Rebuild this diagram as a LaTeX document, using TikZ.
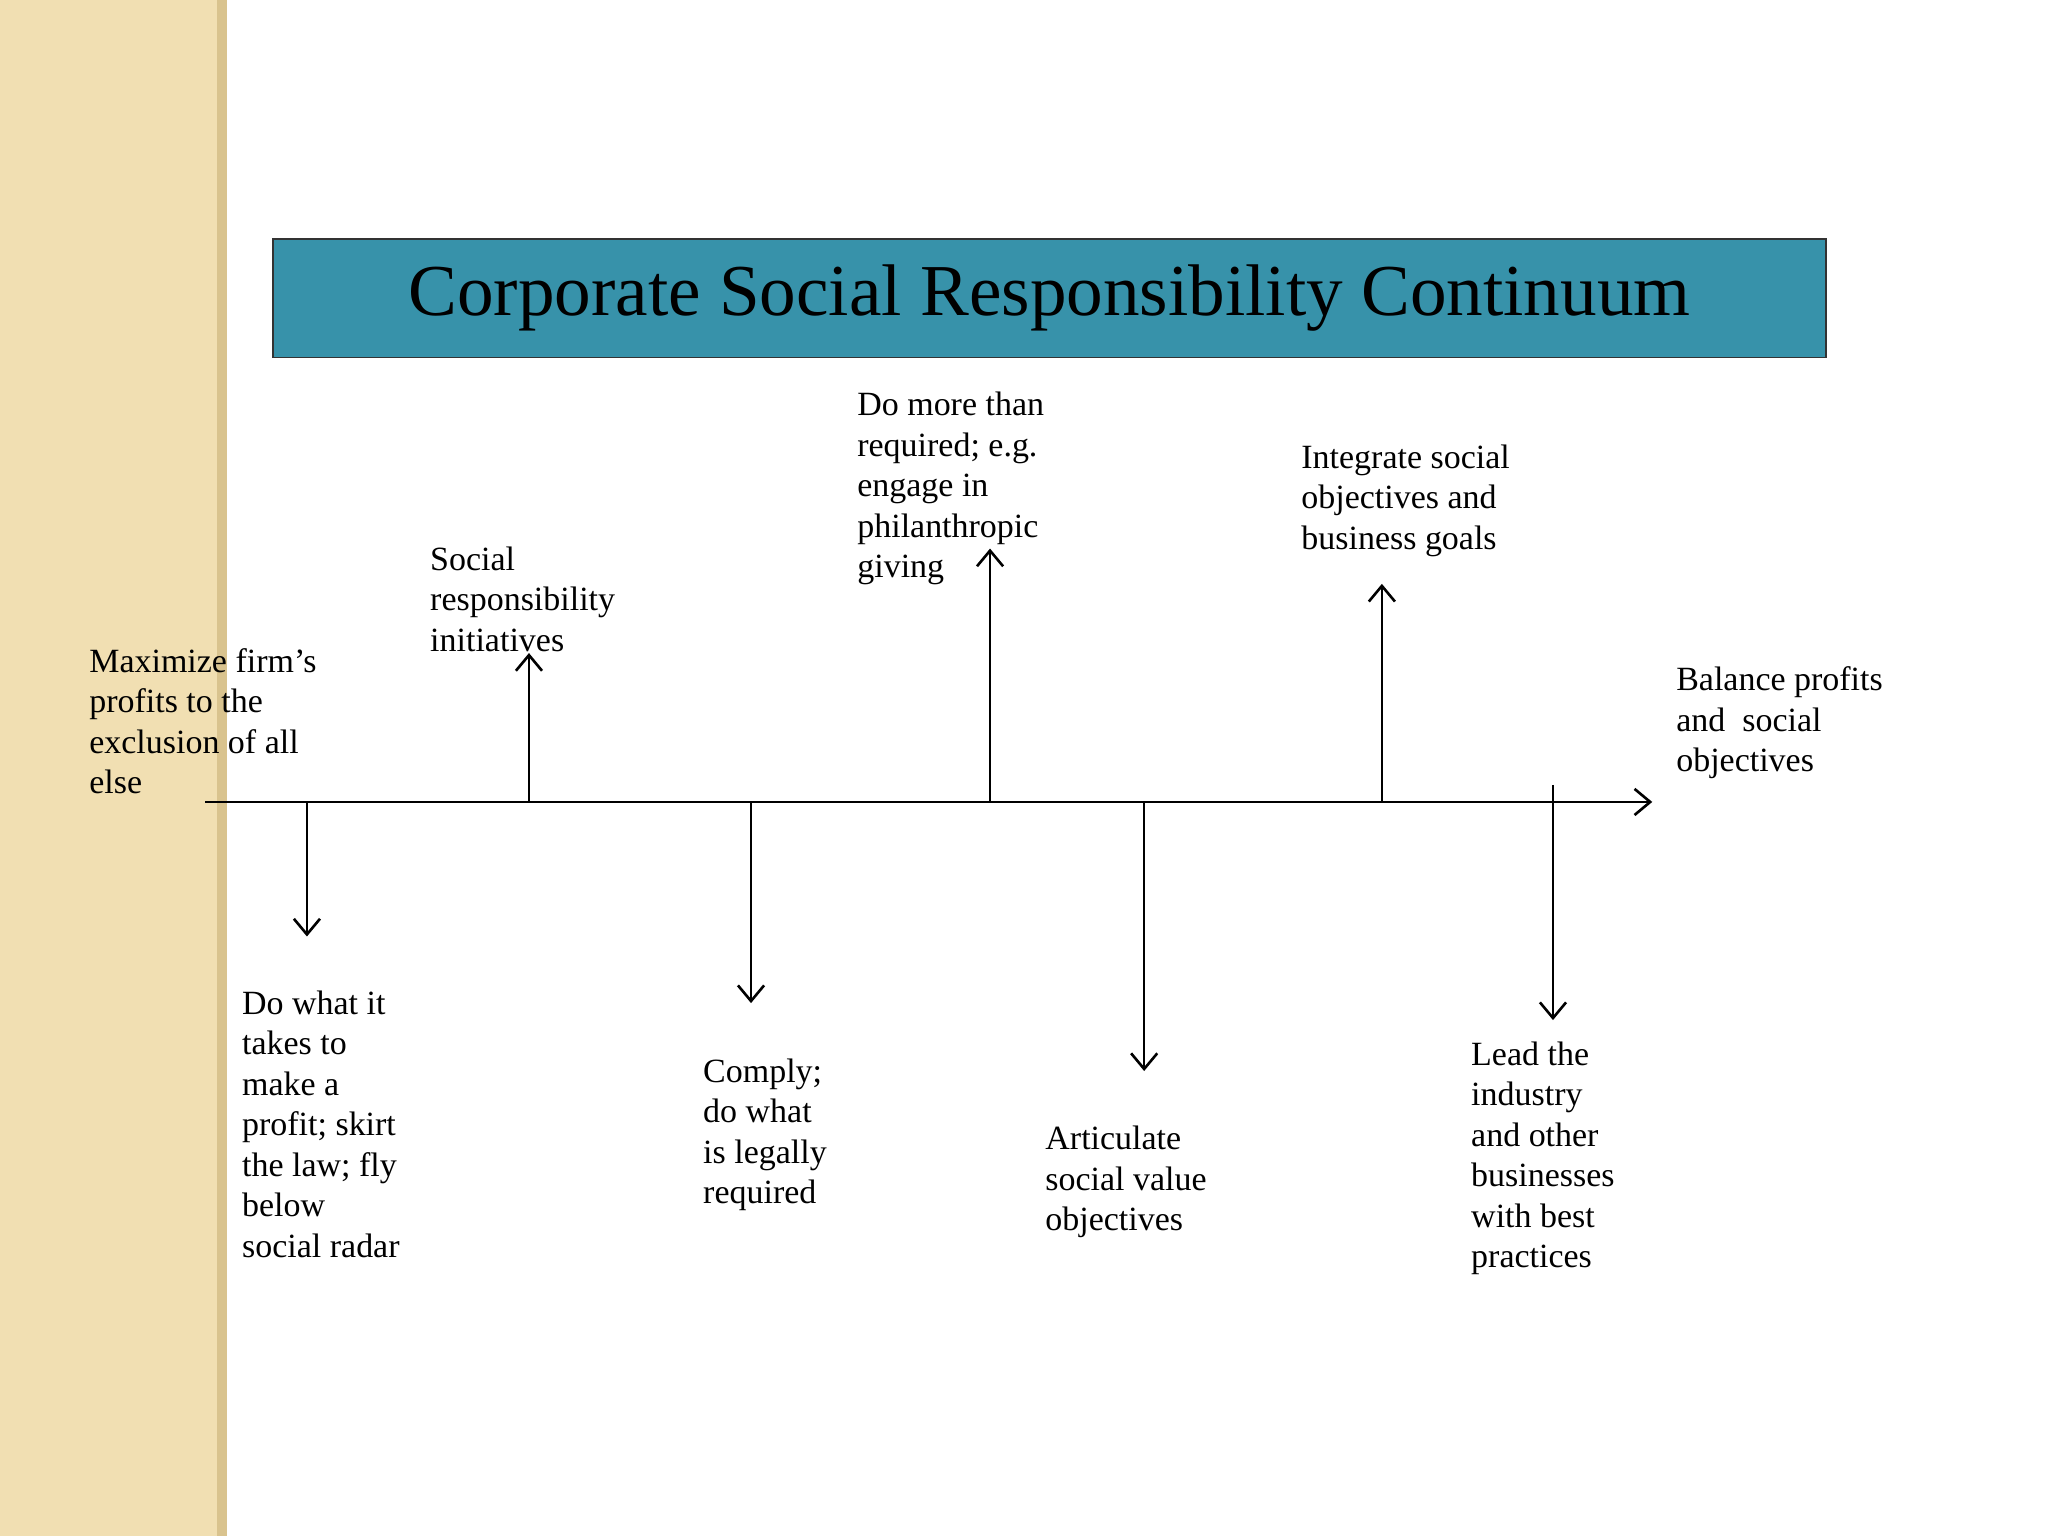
\documentclass[tikz,border=0pt]{standalone}
\usepackage{fontspec}
\setmainfont{Liberation Serif}
\usetikzlibrary{arrows.meta}
\definecolor{band}{HTML}{F1DFB2}
\definecolor{bandedge}{HTML}{D9C38E}
\definecolor{teal}{HTML}{3792AA}
\begin{document}
\begin{tikzpicture}[x=0.5pt,y=-0.5pt,
  lbl/.style={anchor=north west,inner sep=0pt,align=left,font=\fontsize{13}{15.5}\selectfont},
  arr/.style={-{Straight Barb[length=6pt,width=10pt,line width=1pt]},line width=0.7pt}]
\useasboundingbox (0,0) rectangle (1568,1176);
\fill[band] (0,0) rectangle (168,1176);
\fill[bandedge] (166,0) rectangle (174,1176);
\node[draw=black!80,fill=teal,minimum width=594.5pt,minimum height=45.5pt,inner sep=0pt,font=\fontsize{28}{30}\selectfont] (title) at (803.5,228.5) {Corporate Social Responsibility Continuum};
\coordinate (a0) at (157,614);
\coordinate (a1) at (1265,614);
\draw[arr] (a0) -- (a1);
\foreach \n/\x/\ya/\yb in {d1/235/614/717,u1/405/614/500,d2/575/614/768,u2/758/614/420,d3/876/614/820,u3/1058/614/447,d4/1189/601/781}{
  \coordinate (\n s) at (\x,\ya); \coordinate (\n e) at (\x,\yb);
  \draw[arr] (\n s) -- (\n e);}
\node[lbl] (t0) at (68,496) {Maximize firm’s\\profits to the\\exclusion of all\\else};
\node[lbl] (t1) at (329,418) {Social\\responsibility\\initiatives};
\node[lbl] (t2) at (656,300) {Do more than\\required; e.g.\\engage in\\philanthropic\\giving};
\node[lbl] (t3) at (996,340) {Integrate social\\objectives and\\business goals};
\node[lbl] (t4) at (1283,510) {Balance profits\\and\ \ social\\objectives};
\node[lbl] (b1) at (185,758) {Do what it\\takes to\\make a\\profit; skirt\\the law; fly\\below\\social radar};
\node[lbl] (b2) at (538,810) {Comply;\\do what\\is legally\\required};
\node[lbl] (b3) at (800,862) {Articulate\\social value\\objectives};
\node[lbl] (b4) at (1126,797) {Lead the\\industry\\and other\\businesses\\with best\\practices};
\end{tikzpicture}
\end{document}
